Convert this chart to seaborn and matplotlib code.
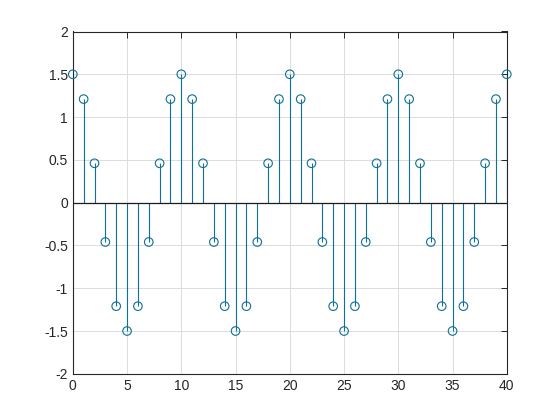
import matplotlib
matplotlib.use("Agg")
from matplotlib import pyplot as plt
import numpy as np
import pandas as pd
import seaborn as sns

# sample index and values
n = list(range(41))
values = [1.5, 1.21, 0.46, -0.46, -1.21, -1.5, -1.21, -0.46, 0.46, 1.21,
          1.5, 1.21, 0.46, -0.46, -1.21, -1.5, -1.21, -0.46, 0.46, 1.21,
          1.5, 1.21, 0.46, -0.46, -1.21, -1.5, -1.21, -0.46, 0.46, 1.21,
          1.5, 1.21, 0.46, -0.46, -1.21, -1.5, -1.21, -0.46, 0.46, 1.21,
          1.5]
xticks = [0, 5, 10, 15, 20, 25, 30, 35, 40]
yticks = [-2, -1.5, -1, -0.5, 0, 0.5, 1, 1.5, 2]
ytick_labels = ['-2', '-1.5', '-1', '-0.5', '0', '0.5', '1', '1.5', '2']

df = pd.DataFrame({'n': n, 'x': values})

sns.set_style('white')
plt.rcParams['font.family'] = ['Liberation Sans', 'DejaVu Sans']

stem_color = '#0f6f96'

fig = plt.figure(figsize=(5.6, 4.2), dpi=100)
ax = fig.add_axes([0.13, 0.11, 0.775, 0.815])

ax.grid(True, color='#dcdcdc', linewidth=0.7)
ax.set_axisbelow(True)

ax.vlines(df['n'], 0, df['x'], color=stem_color, linewidth=0.8, zorder=2)
ax.axhline(0, color='#1a1a1a', linewidth=0.9, zorder=2)
sns.scatterplot(data=df, x='n', y='x', ax=ax, marker='o', s=38,
                facecolors='none', edgecolor=stem_color, linewidth=0.8,
                zorder=3, clip_on=False)

ax.set_xlim(0, 40)
ax.set_ylim(-2, 2)
ax.set_xticks(xticks)
ax.set_yticks(yticks)
ax.set_yticklabels(ytick_labels)
ax.set_xlabel('')
ax.set_ylabel('')

for side in ax.spines.values():
    side.set_visible(True)
    side.set_color('#262626')
    side.set_linewidth(0.8)
ax.tick_params(direction='in', length=4, width=0.7, top=True, right=True,
               colors='#262626', labelsize=10, labelcolor='#262626')

fig.savefig('out.png', dpi=100, facecolor='white')
